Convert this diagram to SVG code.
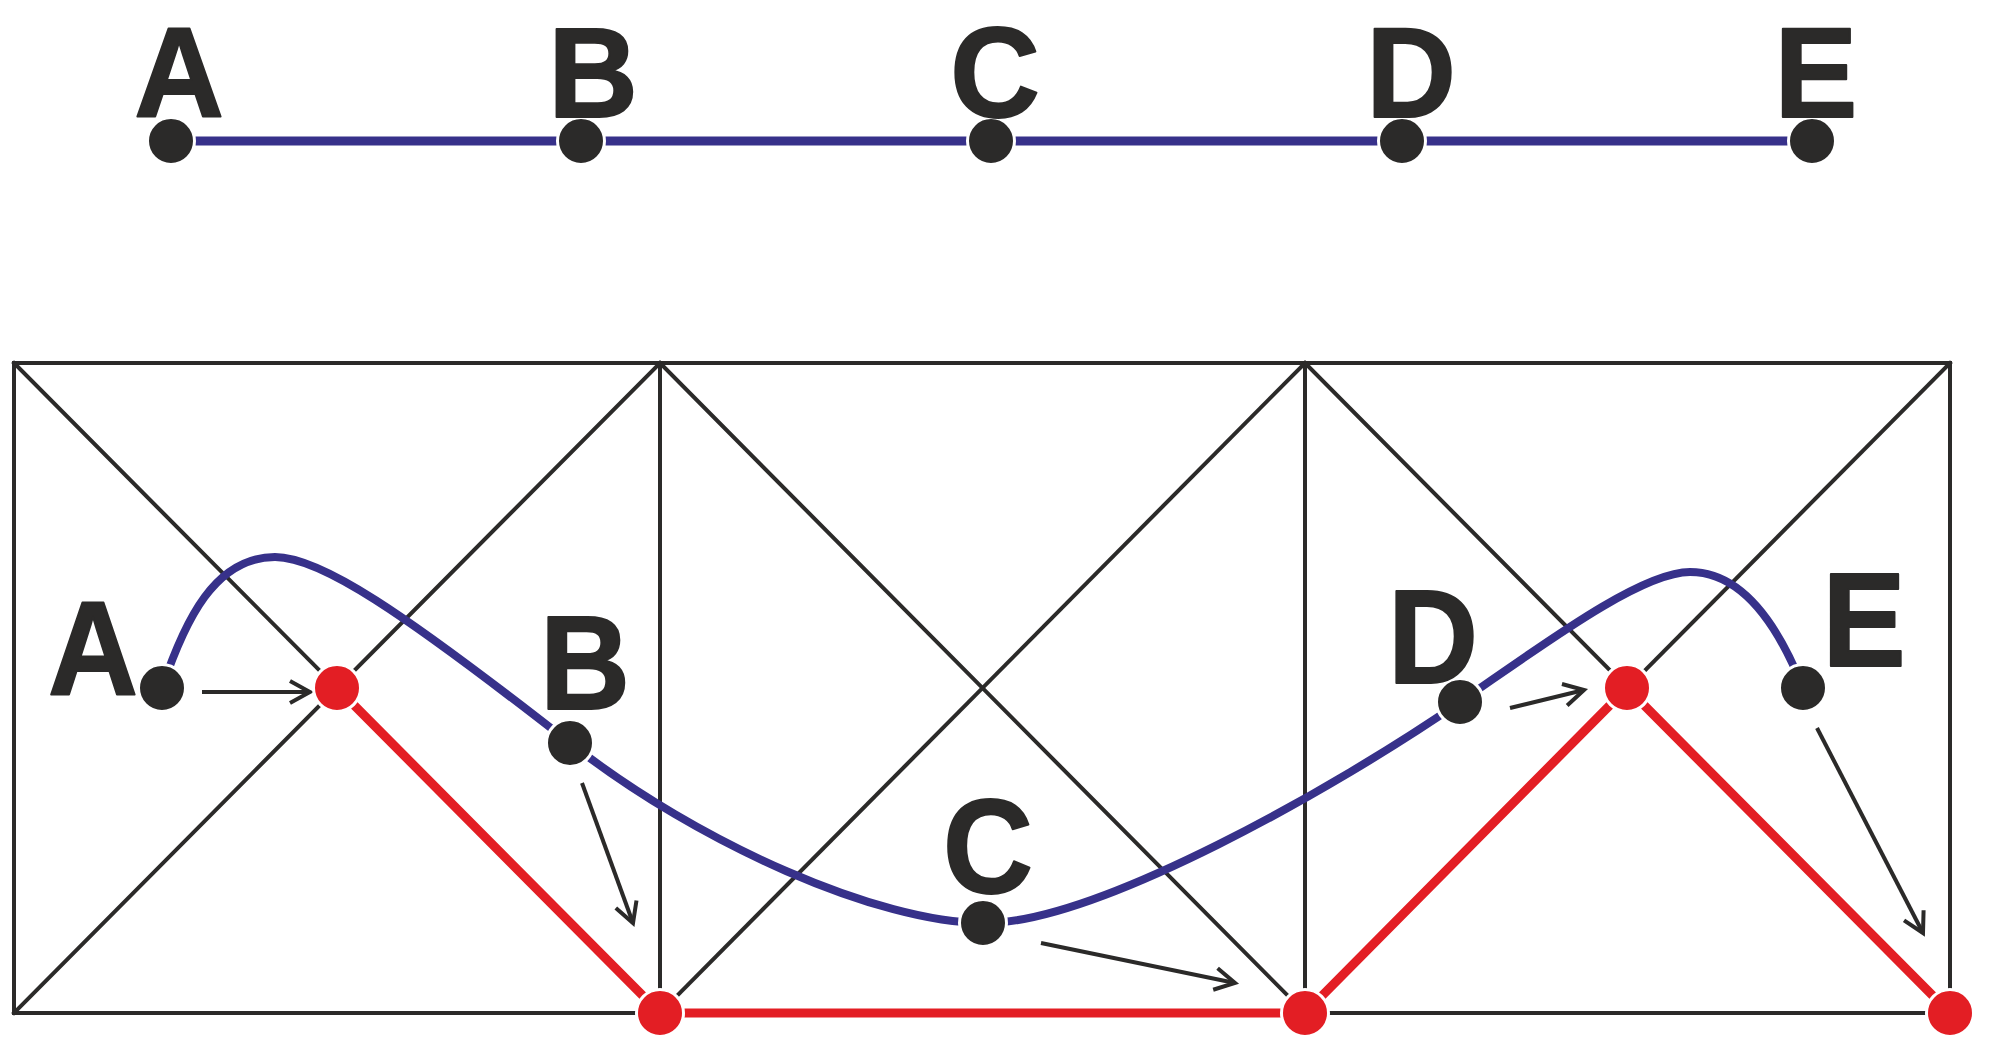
<svg xmlns="http://www.w3.org/2000/svg" width="2005" height="1052" viewBox="0 0 2005 1052">
<style>
.grid{stroke:#2b2a29;stroke-width:4;fill:none;stroke-linecap:square}
.red{stroke:#e31e24;stroke-width:9;fill:none}
.blue{stroke:#37318a;stroke-width:8;fill:none}
.blue-top{stroke:#37318a;stroke-width:9;fill:none}
.arrow{stroke:#2b2a29;stroke-width:4;fill:none;marker-end:url(#head)}
.dot{fill:#2b2a29;stroke:#ffffff;stroke-width:3}
.rdot{fill:#e31e24;stroke:#ffffff;stroke-width:3}
.lbl{font-family:"Liberation Sans",Arial,sans-serif;font-weight:bold;font-size:134px;fill:#2b2a29;stroke:#2b2a29;stroke-width:2;stroke-linejoin:round;text-anchor:middle}
.lbl-top{font-size:128px}
</style>
<defs>
<marker id="head" markerUnits="userSpaceOnUse" markerWidth="32" markerHeight="32" viewBox="0 0 32 32" refX="28" refY="16" orient="auto">
<path d="M8,5 L28,16 L8,27" fill="none" stroke="#2b2a29" stroke-width="4"/>
</marker>
</defs>
<g id="frame">
<rect class="grid" x="14" y="363" width="1936" height="650"/>
<line class="grid" x1="660" y1="363" x2="660" y2="1013"/>
<line class="grid" x1="1305" y1="363" x2="1305" y2="1013"/>
<line class="grid" x1="14" y1="363" x2="660" y2="1013"/>
<line class="grid" x1="660" y1="363" x2="14" y2="1013"/>
<line class="grid" x1="660" y1="363" x2="1305" y2="1013"/>
<line class="grid" x1="1305" y1="363" x2="660" y2="1013"/>
<line class="grid" x1="1305" y1="363" x2="1950" y2="1013"/>
<line class="grid" x1="1950" y1="363" x2="1305" y2="1013"/>
</g>
<g id="connectors">
<line class="blue-top" x1="171" y1="141" x2="1812" y2="141"/>
<path class="red" d="M337,688 L660,1013 L1305,1013 L1627,688 L1950,1013"/>
<path class="blue" d="M162,688 C185,620 215,557 275,557 C320,557 400,610 570,743 C700,845 880,923 983,923 C1095,925 1340,785 1460,702 C1540,647 1640,572 1690,572 C1745,572 1780,630 1803,688"/>
<line class="arrow" x1="202" y1="692" x2="310" y2="692"/>
<line class="arrow" x1="582" y1="783" x2="633" y2="923"/>
<line class="arrow" x1="1041" y1="943" x2="1235" y2="983"/>
<line class="arrow" x1="1510" y1="708" x2="1584" y2="690"/>
<line class="arrow" x1="1817" y1="728" x2="1923" y2="933"/>
</g>
<g id="top-A"><circle class="dot" cx="171" cy="141" r="23.5"/><text class="lbl lbl-top" transform="translate(179,117) scale(0.97,1)">A</text></g>
<g id="top-B"><circle class="dot" cx="581" cy="141" r="23.5"/><text class="lbl lbl-top" transform="translate(593,117) scale(0.97,1)">B</text></g>
<g id="top-C"><circle class="dot" cx="991" cy="141" r="23.5"/><text class="lbl lbl-top" transform="translate(995,117) scale(0.97,1)">C</text></g>
<g id="top-D"><circle class="dot" cx="1402" cy="141" r="23.5"/><text class="lbl lbl-top" transform="translate(1411,117) scale(0.97,1)">D</text></g>
<g id="top-E"><circle class="dot" cx="1812" cy="141" r="23.5"/><text class="lbl lbl-top" transform="translate(1816,117) scale(0.97,1)">E</text></g>
<g id="red-1"><circle class="rdot" cx="337" cy="688" r="23.5"/></g>
<g id="red-2"><circle class="rdot" cx="660" cy="1013" r="23.5"/></g>
<g id="red-3"><circle class="rdot" cx="1305" cy="1013" r="23.5"/></g>
<g id="red-4"><circle class="rdot" cx="1627" cy="688" r="23.5"/></g>
<g id="red-5"><circle class="rdot" cx="1950" cy="1013" r="23.5"/></g>
<g id="low-A"><circle class="dot" cx="162" cy="688" r="23.5"/><text class="lbl" transform="translate(93,695) scale(0.93,1)">A</text></g>
<g id="low-B"><circle class="dot" cx="570" cy="743" r="23.5"/><text class="lbl" transform="translate(585,709) scale(0.93,1)">B</text></g>
<g id="low-C"><circle class="dot" cx="983" cy="923" r="23.5"/><text class="lbl" transform="translate(988,893) scale(0.93,1)">C</text></g>
<g id="low-D"><circle class="dot" cx="1460" cy="702" r="23.5"/><text class="lbl" transform="translate(1433,683) scale(0.93,1)">D</text></g>
<g id="low-E"><circle class="dot" cx="1803" cy="688" r="23.5"/><text class="lbl" transform="translate(1864,666) scale(0.93,1)">E</text></g>
</svg>
